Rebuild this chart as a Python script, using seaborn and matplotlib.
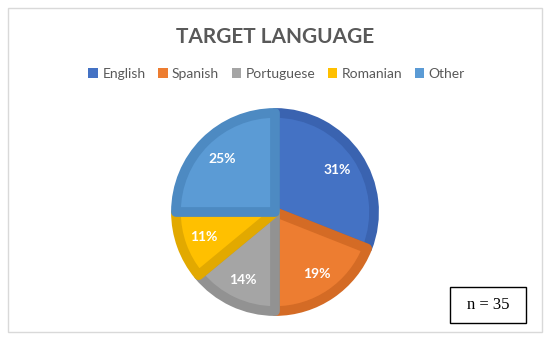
import matplotlib
matplotlib.use("Agg")
import matplotlib.pyplot as plt
from matplotlib.patches import Patch, Rectangle
import seaborn as sns

# =============================
# Données
# =============================
languages = ["English", "Spanish", "Portuguese", "Romanian", "Other"]
shares = [31, 19, 14, 11, 25]
sample_size = 35

colors = ["#4472C4", "#ED7D31", "#A5A5A5", "#FFC000", "#5B9BD5"]
edge_colors = ["#3A63B0", "#D46B25", "#929292", "#E2A900", "#4D8AC2"]

# =============================
# Style
# =============================
sns.set_theme(style="white")
plt.rcParams["font.family"] = ["Lato", "DejaVu Sans"]

fig = plt.figure(figsize=(5.5, 3.4), dpi=100)
fig.patch.set_facecolor("white")

# cadre du graphique (style Excel)
fig.add_artist(Rectangle((8 / 550, 8 / 340), 534 / 550, 324 / 340,
                         transform=fig.transFigure, fill=False,
                         edgecolor="#d9d9d9", linewidth=1))

# axe du camembert
ax = fig.add_axes([171 / 550, 24 / 340, 208 / 550, 208 / 340])

wedges, texts, autotexts = ax.pie(
    shares,
    colors=sns.color_palette(colors),
    startangle=90,
    counterclock=False,
    autopct=lambda p: f"{round(p):.0f}%",
    pctdistance=0.76,
    radius=1,
    wedgeprops={"linewidth": 7, "joinstyle": "round"},
)
for w, ec in zip(wedges, edge_colors):
    w.set_edgecolor(ec)

for t in autotexts:
    t.set_color("white")
    t.set_fontsize(10)
    t.set_fontweight("bold")

ax.set_xlim(-1.05, 1.05)
ax.set_ylim(-1.05, 1.05)
ax.set_aspect("equal")
ax.axis("off")

# titre
fig.text(0.5, 1 - 37 / 340, "TARGET LANGUAGE", ha="center", va="center",
         fontsize=15, fontweight="bold", color="#595959")

# légende
handles = [Patch(facecolor=c, edgecolor="none") for c in colors]
fig.legend(handles, languages, loc="center", bbox_to_anchor=(0.503, 1 - 74 / 340),
           ncol=5, frameon=False, fontsize=10, handlelength=0.7, handleheight=0.7,
           handletextpad=0.3, columnspacing=0.9, labelcolor="#595959")

# encadré n = 35
fig.add_artist(Rectangle((450 / 550, (340 - 323) / 340), 76 / 550, 36 / 340,
                         transform=fig.transFigure, fill=False,
                         edgecolor="black", linewidth=1))
fig.text(488 / 550, 1 - 305 / 340, f"n = {sample_size}", ha="center", va="center",
         fontsize=12, family="Liberation Serif", color="black")

fig.savefig("out.png", dpi=100)
